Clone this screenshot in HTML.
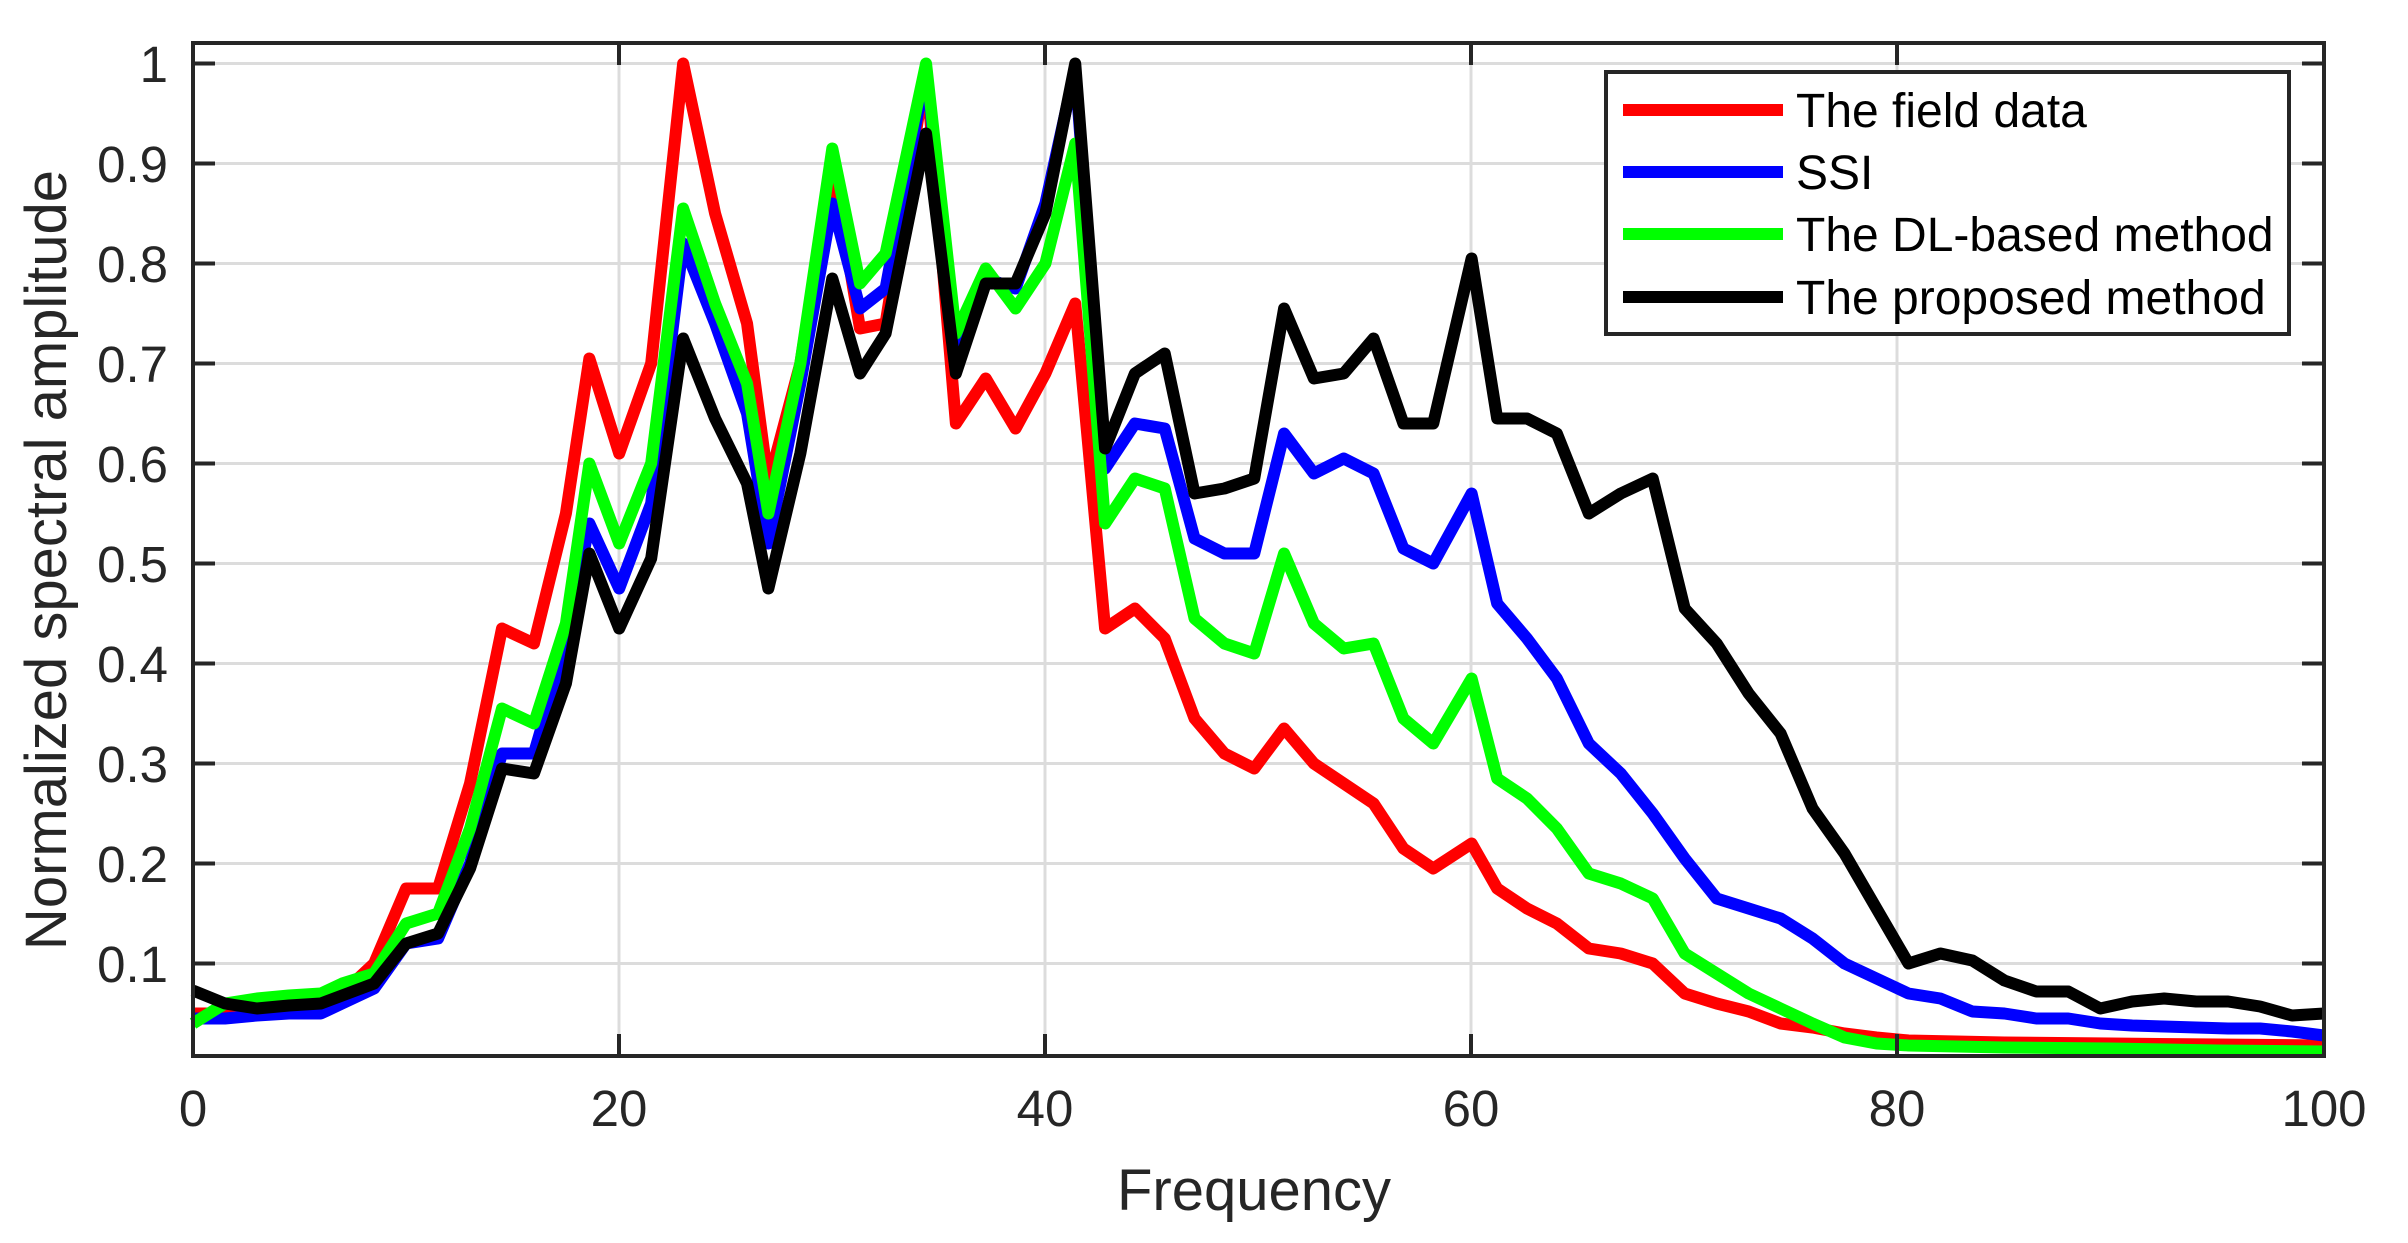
<!DOCTYPE html>
<html><head><meta charset="utf-8"><style>
html,body{margin:0;padding:0;background:#fff;}
svg{display:block;}
text{font-family:"Liberation Sans",Arial,sans-serif;fill:#262626;}
</style></head><body>
<svg width="2408" height="1243" viewBox="0 0 2408 1243" xmlns="http://www.w3.org/2000/svg">
<rect width="2408" height="1243" fill="#fff"/>
<g stroke="#dcdcdc" stroke-width="3">
<line x1="619" y1="43" x2="619" y2="1056"/>
<line x1="1045" y1="43" x2="1045" y2="1056"/>
<line x1="1471" y1="43" x2="1471" y2="1056"/>
<line x1="1897" y1="43" x2="1897" y2="1056"/>
<line x1="193" y1="63.5" x2="2324" y2="63.5"/>
<line x1="193" y1="163.5" x2="2324" y2="163.5"/>
<line x1="193" y1="263.5" x2="2324" y2="263.5"/>
<line x1="193" y1="363.5" x2="2324" y2="363.5"/>
<line x1="193" y1="463.5" x2="2324" y2="463.5"/>
<line x1="193" y1="563.5" x2="2324" y2="563.5"/>
<line x1="193" y1="663.5" x2="2324" y2="663.5"/>
<line x1="193" y1="763.5" x2="2324" y2="763.5"/>
<line x1="193" y1="863.5" x2="2324" y2="863.5"/>
<line x1="193" y1="963.5" x2="2324" y2="963.5"/>
</g>
<g transform="translate(193,1063.5) scale(21.31,-1000)" fill="none" stroke-width="12" stroke-linejoin="round" stroke-linecap="butt">
<polyline vector-effect="non-scaling-stroke" stroke="#ff0000" points="0,0.05 1.5,0.05 3,0.05 4.5,0.055 6,0.06 7,0.07 8.5,0.1 10,0.175 11.5,0.175 13,0.28 14.5,0.435 16,0.42 17.5,0.55 18.6,0.705 20,0.61 21.5,0.7 23,1.0 24.5,0.85 26,0.74 27,0.58 28.5,0.7 30,0.9 31.3,0.735 32.5,0.74 34.4,0.995 35.8,0.64 37.2,0.685 38.6,0.635 40,0.69 41.4,0.76 42.8,0.435 44.2,0.455 45.6,0.425 47,0.345 48.4,0.31 49.8,0.295 51.2,0.335 52.6,0.3 54,0.28 55.4,0.26 56.8,0.215 58.2,0.195 60,0.22 61.2,0.175 62.6,0.155 64,0.14 65.5,0.115 67,0.11 68.5,0.1 70,0.07 71.5,0.06 73,0.052 74.5,0.04 76,0.036 77.5,0.03 79,0.026 80.5,0.023 85,0.021 90,0.02 95,0.019 100,0.018"/>
<polyline vector-effect="non-scaling-stroke" stroke="#0000ff" points="0,0.045 1.5,0.045 3,0.048 4.5,0.05 6,0.05 7,0.06 8.5,0.075 10,0.12 11.5,0.125 13,0.2 14.5,0.31 16,0.31 17.5,0.42 18.6,0.54 20,0.475 21.5,0.56 23,0.82 24.5,0.74 26,0.65 27,0.52 28.5,0.68 30,0.86 31.3,0.755 32.5,0.775 34.4,0.995 35.8,0.72 37.2,0.785 38.6,0.775 40,0.86 41.4,0.995 42.8,0.595 44.2,0.64 45.6,0.635 47,0.525 48.4,0.51 49.8,0.51 51.2,0.63 52.6,0.59 54,0.605 55.4,0.59 56.8,0.515 58.2,0.5 60,0.57 61.2,0.46 62.6,0.425 64,0.385 65.5,0.32 67,0.29 68.5,0.25 70,0.205 71.5,0.165 73,0.155 74.5,0.145 76,0.125 77.5,0.1 79,0.085 80.5,0.07 82,0.065 83.5,0.052 85,0.05 86.5,0.045 88,0.045 89.5,0.04 91,0.038 92.5,0.037 94,0.036 95.5,0.035 97,0.035 98.5,0.032 100,0.028"/>
<polyline vector-effect="non-scaling-stroke" stroke="#00ff00" points="0,0.04 1.5,0.06 3,0.065 4.5,0.068 6,0.07 7,0.08 8.5,0.09 10,0.14 11.5,0.15 13,0.235 14.5,0.355 16,0.34 17.5,0.44 18.6,0.6 20,0.52 21.5,0.6 23,0.855 24.5,0.76 26,0.68 27,0.55 28.5,0.7 30,0.915 31.3,0.78 32.5,0.81 34.4,1.0 35.8,0.73 37.2,0.795 38.6,0.755 40,0.8 41.4,0.92 42.8,0.54 44.2,0.585 45.6,0.575 47,0.445 48.4,0.42 49.8,0.41 51.2,0.51 52.6,0.44 54,0.415 55.4,0.42 56.8,0.345 58.2,0.32 60,0.385 61.2,0.285 62.6,0.265 64,0.235 65.5,0.19 67,0.18 68.5,0.165 70,0.11 71.5,0.09 73,0.07 74.5,0.055 76,0.04 77.5,0.026 79,0.02 80.5,0.018 85,0.016 90,0.015 95,0.013 100,0.012"/>
<polyline vector-effect="non-scaling-stroke" stroke="#000000" points="0,0.073 1.5,0.06 3,0.055 4.5,0.058 6,0.06 7,0.068 8.5,0.08 10,0.12 11.5,0.13 13,0.195 14.5,0.295 16,0.29 17.5,0.38 18.6,0.51 20,0.435 21.5,0.505 23,0.725 24.5,0.645 26,0.58 27,0.475 28.5,0.61 30,0.785 31.3,0.69 32.5,0.73 34.4,0.93 35.8,0.69 37.2,0.78 38.6,0.78 40,0.85 41.4,1.0 42.8,0.615 44.2,0.69 45.6,0.71 47,0.57 48.4,0.575 49.8,0.585 51.2,0.755 52.6,0.685 54,0.69 55.4,0.725 56.8,0.64 58.2,0.64 60,0.805 61.2,0.645 62.6,0.645 64,0.63 65.5,0.55 67,0.57 68.5,0.585 70,0.455 71.5,0.42 73,0.37 74.5,0.33 76,0.255 77.5,0.21 79,0.155 80.5,0.1 82,0.11 83.5,0.103 85,0.083 86.5,0.072 88,0.072 89.5,0.055 91,0.062 92.5,0.065 94,0.062 95.5,0.062 97,0.057 98.5,0.048 100,0.05"/>
</g>
<rect x="193" y="43" width="2131" height="1013" fill="none" stroke="#262626" stroke-width="4"/>
<g stroke="#262626" stroke-width="4">
<line x1="619" y1="1056" x2="619" y2="1034"/><line x1="1045" y1="1056" x2="1045" y2="1034"/><line x1="1471" y1="1056" x2="1471" y2="1034"/><line x1="1897" y1="1056" x2="1897" y2="1034"/>
<line x1="619" y1="43" x2="619" y2="65"/><line x1="1045" y1="43" x2="1045" y2="65"/><line x1="1471" y1="43" x2="1471" y2="65"/><line x1="1897" y1="43" x2="1897" y2="65"/>
<line x1="193" y1="63.5" x2="215" y2="63.5"/><line x1="193" y1="163.5" x2="215" y2="163.5"/><line x1="193" y1="263.5" x2="215" y2="263.5"/><line x1="193" y1="363.5" x2="215" y2="363.5"/><line x1="193" y1="463.5" x2="215" y2="463.5"/><line x1="193" y1="563.5" x2="215" y2="563.5"/><line x1="193" y1="663.5" x2="215" y2="663.5"/><line x1="193" y1="763.5" x2="215" y2="763.5"/><line x1="193" y1="863.5" x2="215" y2="863.5"/><line x1="193" y1="963.5" x2="215" y2="963.5"/>
<line x1="2324" y1="63.5" x2="2302" y2="63.5"/><line x1="2324" y1="163.5" x2="2302" y2="163.5"/><line x1="2324" y1="263.5" x2="2302" y2="263.5"/><line x1="2324" y1="363.5" x2="2302" y2="363.5"/><line x1="2324" y1="463.5" x2="2302" y2="463.5"/><line x1="2324" y1="563.5" x2="2302" y2="563.5"/><line x1="2324" y1="663.5" x2="2302" y2="663.5"/><line x1="2324" y1="763.5" x2="2302" y2="763.5"/><line x1="2324" y1="863.5" x2="2302" y2="863.5"/><line x1="2324" y1="963.5" x2="2302" y2="963.5"/>
</g>
<g font-size="51" text-anchor="end">
<text x="168" y="82">1</text>
<text x="168" y="182">0.9</text>
<text x="168" y="282">0.8</text>
<text x="168" y="382">0.7</text>
<text x="168" y="482">0.6</text>
<text x="168" y="582">0.5</text>
<text x="168" y="682">0.4</text>
<text x="168" y="782">0.3</text>
<text x="168" y="882">0.2</text>
<text x="168" y="982">0.1</text>
</g>
<g font-size="51" text-anchor="middle">
<text x="193" y="1126">0</text>
<text x="619" y="1126">20</text>
<text x="1045" y="1126">40</text>
<text x="1471" y="1126">60</text>
<text x="1897" y="1126">80</text>
<text x="2324" y="1126">100</text>
</g>
<text x="1254" y="1210" font-size="58" text-anchor="middle">Frequency</text>
<text transform="translate(66,560) rotate(-90)" font-size="58" text-anchor="middle">Normalized spectral amplitude</text>
<rect x="1606" y="72" width="683" height="262" fill="#fff" stroke="#262626" stroke-width="4"/>
<g stroke-width="12">
<line x1="1623" y1="110" x2="1783" y2="110" stroke="#ff0000"/>
<line x1="1623" y1="172" x2="1783" y2="172" stroke="#0000ff"/>
<line x1="1623" y1="234" x2="1783" y2="234" stroke="#00ff00"/>
<line x1="1623" y1="297" x2="1783" y2="297" stroke="#000000"/>
</g>
<g font-size="48">
<text x="1796" y="127" style="fill:#000">The field data</text>
<text x="1796" y="189" style="fill:#000">SSI</text>
<text x="1796" y="251" style="fill:#000">The DL-based method</text>
<text x="1796" y="314" style="fill:#000">The proposed method</text>
</g>
</svg>
</body></html>
